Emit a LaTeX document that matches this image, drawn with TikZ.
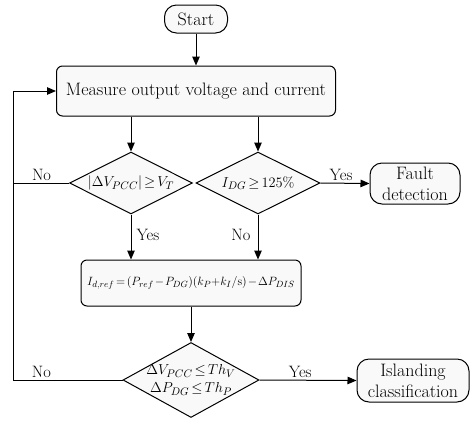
\documentclass[tikz,border=0pt]{standalone}
\usetikzlibrary{arrows.meta,shapes.geometric}
\newcommand\tightm{\medmuskip=1.5mu\relax\thickmuskip=2.5mu\relax}
\begin{document}
\begin{tikzpicture}[x=1pt,y=-1pt,
  every node/.style={font=\fontsize{18}{21}\selectfont},
  box/.style={draw, line width=1pt, rounded corners=6pt, fill=gray!5, inner sep=0pt, align=center},
  term/.style={draw, line width=1pt, rounded corners=12pt, fill=gray!5, inner sep=0pt, align=center},
  dec/.style={draw, line width=1pt, diamond, fill=gray!5, inner sep=0pt},
  mth/.style={font=\fontsize{15}{17}\selectfont\tightm, align=center, inner sep=0pt},
  arr/.style={line width=1pt, -{Triangle[length=9pt,width=7.5pt]}},
  ln/.style={line width=1pt},
  lab/.style={font=\fontsize{16.5}{19}\selectfont, inner sep=2pt}]
\useasboundingbox (0,0) rectangle (474,424);
\node[term, minimum width=63pt, minimum height=28pt] (start) at (196,19) {Start};
\node[box, minimum width=279pt, minimum height=50pt] (meas) at (196,91) {Measure output voltage and current};
\node[dec, minimum width=123pt, minimum height=62pt] (d1) at (131,183) {};
\node[mth] (d1t) at (d1) {$|\Delta V_{PCC}|\geq V_T$};
\node[dec, minimum width=124pt, minimum height=62pt] (d2) at (258,183) {};
\node[mth] (d2t) at (d2) {$I_{DG}\geq 125\%$};
\node[term, minimum width=90pt, minimum height=41pt] (fault) at (415,183.5) {Fault\\detection};
\node[box, minimum width=220pt, minimum height=46pt] (form) at (191,283) {};
\node[mth, font=\fontsize{12.8}{15}\selectfont\tightm] (formt) at (form) {$I_{d,ref}=(P_{ref}-P_{DG})(k_P{+}k_I/\mathrm{s})-\Delta P_{DIS}$};
\node[dec, minimum width=136pt, minimum height=75pt] (d3) at (191,380) {};
\node[mth] (d3t) at (d3) {$\Delta V_{PCC}\leq Th_V$\\[1pt]$\Delta P_{DG}\leq Th_P$};
\node[term, minimum width=112pt, minimum height=43pt] (isl) at (413,380.5) {Islanding\\classification};
\coordinate (lp) at (13,380);
\draw[arr] (start) -- (meas);
\draw[arr] (meas.south -| d1.north) -- (d1.north);
\draw[arr] (meas.south -| d2.north) -- (d2.north);
\draw[arr] (d2.east) -- node[lab, above, pos=0.42] {Yes} (fault.west);
\draw[arr] (d1.south) -- node[lab, right, pos=0.46, inner sep=5pt] {Yes} (form.north -| d1.south);
\draw[arr] (d2.south) -- node[lab, left, pos=0.46, inner sep=7pt] {No} (form.north -| d2.south);
\draw[arr] (form) -- (d3.north);
\draw[arr] (d3.east) -- node[lab, above, pos=0.42] {Yes} (isl.west);
\draw[ln] (d1.west) -- node[lab, above, pos=0.49] {No} (d1.west -| lp);
\draw[arr] (d3.west) -- node[lab, above, pos=0.74] {No} (lp) |- (meas.west);
\end{tikzpicture}
\end{document}
